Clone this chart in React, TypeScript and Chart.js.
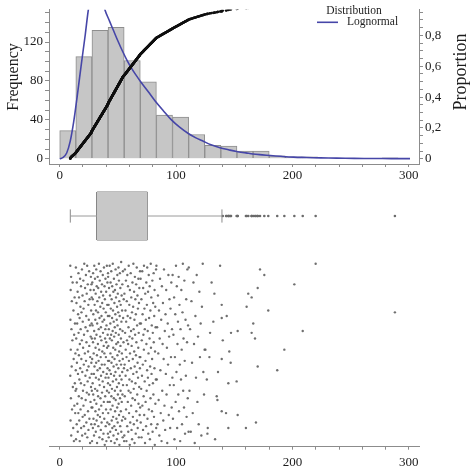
import { useEffect, useRef } from 'react';
import { Chart, registerables } from 'chart.js';

Chart.register(...registerables);

// ---------- data ----------
const binCenters = [6.92, 20.77, 34.62, 48.46, 62.31, 76.15, 90.0, 103.85, 117.69, 131.54, 145.38, 159.23, 173.08, 186.92, 200.77, 214.62, 228.46, 242.31, 256.15, 270.0, 283.85];
const binCounts = [29, 105, 132, 135, 101, 79, 45, 43, 25, 14, 13, 8, 8, 3, 2, 2, 0, 0, 0, 0, 1];

const curveX = [0, 3, 6, 9, 12, 15, 18, 20, 22, 24.6, 27, 31, 35, 38.9, 43, 46.5, 50.4, 54, 57.5, 61, 64.7, 70, 76.1, 82, 89, 96, 103, 110.5, 117, 123.4, 130, 137.7, 145, 152, 160, 166, 174, 181, 190, 201, 212, 224, 238, 253, 270, 285, 301];
const curveY = [0, 1.5, 6, 18, 38, 64, 92, 110, 128, 153, 168, 178, 172, 153, 141, 131, 120, 110.5, 102, 94.5, 87.5, 78.5, 69, 59.5, 49.5, 40, 32.5, 26, 21.5, 18, 14.5, 11.4, 9.3, 7.5, 6.1, 5, 4.1, 3.4, 2.6, 1.8, 1.4, 1.0, 0.7, 0.5, 0.35, 0.25, 0.2];

// sorted sample (used for the ECDF, the box-plot outliers and the strip plot)
const sampleValues = [
  9.1,9.1,9.2,9.3,9.4,9.5,9.6,9.8,9.9,10.1,10.3,10.4,10.6,10.9,11.1,11.3,11.6,11.8,12.0,12.2,12.4,12.6,12.8,13.0,13.1,13.3,13.5,13.6,13.8,
  13.9,14.0,14.2,14.3,14.4,14.6,14.7,14.8,15.0,15.1,15.3,15.4,15.5,15.7,15.8,16.0,16.1,16.2,16.4,16.5,
  16.6,16.8,16.9,17.1,17.2,17.3,17.5,17.6,17.8,17.9,18.0,18.2,18.3,18.4,18.6,18.7,18.9,19.0,19.1,19.3,
  19.4,19.6,19.7,19.8,20.0,20.1,20.3,20.4,20.5,20.7,20.8,20.9,21.1,21.2,21.4,21.5,21.6,21.8,21.9,22.1,
  22.2,22.3,22.5,22.6,22.8,22.9,23.0,23.2,23.3,23.5,23.6,23.7,23.9,24.0,24.1,24.3,24.4,24.6,24.7,24.8,
  25.0,25.1,25.3,25.4,25.5,25.7,25.8,26.0,26.1,26.2,26.4,26.5,26.6,26.8,26.9,27.0,27.1,27.2,27.3,27.3,
  27.4,27.4,27.5,27.6,27.6,
  27.8,27.9,28.0,28.1,28.2,28.3,28.4,28.5,28.6,28.7,28.8,28.9,29.0,29.2,29.3,29.4,29.5,29.6,29.7,29.8,
  29.9,30.0,30.1,30.2,30.3,30.4,30.6,30.7,30.8,30.9,31.0,31.1,31.2,31.3,31.4,31.5,31.6,31.7,31.8,32.0,
  32.1,32.2,32.3,32.4,32.5,32.6,32.7,32.8,32.9,33.0,33.1,33.2,33.4,33.5,33.6,33.7,33.8,33.9,34.0,34.1,
  34.2,34.3,34.4,34.5,34.6,34.8,34.9,35.0,35.1,35.2,35.3,35.4,35.5,35.6,35.7,35.8,35.9,36.0,36.2,36.3,
  36.4,36.5,36.6,36.7,36.8,36.9,37.0,37.1,37.2,37.3,37.4,37.6,37.7,37.8,37.9,38.0,38.1,38.2,38.3,38.4,
  38.5,38.6,38.7,38.8,39.0,39.1,39.2,39.3,39.4,39.5,39.6,39.7,39.8,39.9,40.0,40.1,40.2,40.4,40.5,40.6,
  40.7,40.8,40.9,41.0,41.1,41.2,41.3,41.4,41.4,41.5,41.5,41.5,
  41.6,41.7,41.8,41.9,42.0,42.1,42.2,42.3,42.4,42.5,42.6,42.7,42.8,42.9,43.0,43.1,43.2,43.3,43.4,43.5,
  43.6,43.7,43.8,43.9,44.0,44.1,44.2,44.3,44.4,44.5,44.6,44.7,44.8,44.9,45.0,45.1,45.2,45.3,45.4,45.5,
  45.6,45.7,45.8,45.9,46.0,46.1,46.2,46.3,46.4,46.5,46.6,46.7,46.8,46.9,47.0,47.1,47.2,47.3,47.4,47.5,
  47.6,47.7,47.8,47.9,48.0,48.1,48.2,48.3,48.4,48.5,48.6,48.7,48.8,48.9,49.0,49.1,49.2,49.3,49.4,49.5,
  49.6,49.7,49.8,49.9,50.0,50.1,50.2,50.3,50.4,50.5,50.6,50.7,50.8,50.9,51.0,51.1,51.2,51.3,51.4,51.5,
  51.6,51.7,51.8,51.9,52.0,52.1,52.2,52.3,52.4,52.5,52.6,52.7,52.8,52.9,53.0,53.1,53.2,53.3,53.4,53.5,
  53.6,53.7,53.8,53.9,54.0,54.1,54.2,54.3,54.4,54.5,54.6,54.8,55.0,55.2,55.3,
  55.5,55.6,55.8,55.9,56.0,56.2,56.3,56.5,56.6,56.7,56.9,57.0,57.1,57.3,57.4,57.6,57.7,57.8,58.0,58.1,
  58.2,58.4,58.5,58.7,58.8,58.9,59.1,59.2,59.3,59.5,59.6,59.8,59.9,60.0,60.2,60.3,60.4,60.6,60.7,60.9,
  61.0,61.1,61.3,61.4,61.5,61.7,61.8,62.0,62.1,62.2,62.4,62.5,62.6,62.8,62.9,63.1,63.2,63.3,63.5,63.6,
  63.7,63.9,64.0,64.2,64.3,64.4,64.6,64.7,64.8,65.0,65.1,65.3,65.4,65.5,65.7,65.8,65.9,66.1,66.2,66.4,
  66.5,66.6,66.8,66.9,67.0,67.2,67.3,67.5,67.6,67.7,67.9,68.0,68.1,68.3,68.4,68.6,68.7,68.8,68.9,69.0,
  69.1,
  69.3,69.5,69.6,69.8,70.0,70.2,70.3,70.5,70.7,70.9,71.0,71.2,71.4,71.6,71.7,71.9,72.1,72.3,72.4,72.6,
  72.8,73.0,73.1,73.3,73.5,73.7,73.8,74.0,74.2,74.4,74.5,74.7,74.9,75.1,75.2,75.4,75.6,75.8,75.9,76.1,
  76.3,76.5,76.6,76.8,77.0,77.2,77.3,77.5,77.7,77.9,78.0,78.2,78.4,78.6,78.7,78.9,79.1,79.3,79.4,79.6,
  79.8,80.0,80.1,80.3,80.5,80.7,80.8,81.0,81.2,81.4,81.5,81.7,81.9,82.1,82.2,82.4,82.6,82.8,82.9,
  83.1,83.4,83.7,84.0,84.4,84.7,85.0,85.3,85.6,85.9,86.2,86.5,86.8,87.2,87.5,87.8,88.1,88.4,88.7,89.0,
  89.3,89.6,90.0,90.3,90.6,90.9,91.2,91.5,91.8,92.1,92.4,92.8,93.1,93.4,93.7,94.0,94.3,94.6,94.9,95.2,
  95.6,95.9,96.2,96.5,96.8,
  97.0,97.3,97.7,98.0,98.3,98.6,99.0,99.3,99.6,99.9,100.3,100.6,100.9,101.2,101.6,101.9,102.2,102.5,102.9,103.2,
  103.5,103.8,104.2,104.5,104.8,105.1,105.5,105.8,106.1,106.4,106.8,107.1,107.4,107.7,108.1,108.4,108.7,109.0,109.4,109.7,
  110.0,110.3,110.7,
  110.9,111.5,112.0,112.6,113.2,113.7,114.3,114.9,115.4,116.0,116.6,117.1,117.7,118.3,118.8,119.4,120.0,120.5,121.1,121.7,
  122.2,122.9,123.4,124.0,124.5,
  125.2,126.4,126.9,127.2,128.6,129.2,130.5,132.0,132.9,133.5,134.9,135.5,136.0,137.8,
  139.2,139.2,139.2,139.2,140.1,142.9,143.5,144.9,144.9,145.7,146.9,147.2,152.0,152.9,152.9,160.0,160.6,162.0,164.9,164.9,
  166.3,167.8,168.6,170.1,170.1,172.1,175.8,179.2,186.9,193.0,201.6,208.8,219.9,288.0,
];

// vertical jitter of each sample value in the strip plot (0 = axis, 100 = top row)
const stripJitter = [
  97,38,68,14,84,52,26,91,6,63,43,78,20,57,88,32,10,73,47,3,60,22,80,34,66,18,50,30,41,
  96,4,58,31,77,12,88,45,66,23,52,83,8,39,71,18,93,61,27,49,80,14,36,69,3,55,90,42,75,20,
  63,34,86,10,47,72,26,57,95,6,40,81,16,67,30,53,89,22,74,44,11,60,98,33,78,17,50,85,7,38,
  64,25,92,46,70,13,56,82,29,41,97,5,62,35,87,19,51,76,9,43,68,28,94,54,15,79,37,65,2,48,
  84,24,59,91,32,73,12,45,87,21,66,39,80,58,30,
  3,47,88,21,65,34,79,10,56,93,28,71,15,50,84,39,6,62,97,25,43,76,12,58,90,31,68,19,53,82,
  8,37,73,45,95,23,60,14,86,49,2,66,30,78,41,91,17,55,72,27,85,11,46,63,36,98,20,52,80,5,
  69,33,89,42,16,59,75,26,94,48,9,64,38,83,22,57,70,13,44,87,29,77,51,4,67,35,92,18,61,81,
  40,7,74,54,24,96,32,68,15,50,86,44,1,79,58,27,63,90,37,11,72,48,20,83,56,3,65,39,97,30,
  53,76,13,88,42,60,24,70,7,93,46,34,
  91,18,54,37,76,5,63,29,85,46,12,70,41,97,24,58,81,33,8,66,50,88,20,74,39,3,60,94,27,45,
  79,14,57,31,69,86,10,48,22,62,98,35,73,16,53,83,6,43,67,26,90,38,59,11,77,47,2,64,30,84,
  19,52,71,40,95,25,61,9,80,36,55,15,87,44,68,4,32,75,21,92,49,65,13,82,28,56,7,72,42,96,
  23,60,34,89,17,51,78,1,46,70,38,93,26,63,11,85,54,30,76,19,58,44,99,8,67,36,81,24,50,14,
  73,40,87,28,62,5,47,94,33,69,16,56,79,42,3,
  6,82,44,27,95,61,15,73,38,52,89,20,67,3,48,78,33,57,11,92,41,70,24,86,55,8,64,30,97,46,
  18,76,36,59,1,84,50,13,69,29,93,42,62,22,80,9,54,35,72,4,58,88,26,47,16,75,39,98,63,31,
  12,83,51,68,2,43,91,25,60,79,34,7,71,49,87,19,56,40,96,14,65,28,81,45,10,74,37,53,90,23,
  61,5,77,32,85,48,17,66,42,94,21,
  48,90,13,66,31,79,5,57,38,94,22,71,44,9,85,60,27,52,97,17,74,35,63,2,82,46,24,68,11,88,
  55,30,76,41,96,15,62,37,83,7,50,92,20,69,33,58,86,4,43,73,26,98,53,12,80,39,65,19,47,89,
  8,61,34,77,28,93,56,16,70,42,84,1,51,75,23,64,36,95,10,
  97,36,64,12,81,50,25,73,6,58,90,41,18,68,3,86,30,55,77,14,47,95,22,62,9,71,39,84,28,53,
  2,66,44,92,17,59,79,33,10,74,48,88,21,63,37,
  92,15,60,33,80,4,48,71,24,97,40,86,10,55,67,28,91,19,76,44,3,63,36,84,52,12,72,98,30,58,
  21,89,46,7,68,38,79,16,56,95,26,65,8,
  96,30,63,8,78,45,18,88,55,2,70,37,92,24,59,12,83,48,66,6,75,98,40,28,52,
  52,36,7,10,48,61,88,67,82,4,27,25,40,97,
  76,69,47,19,57,18,70,34,10,51,45,61,35,62,17,10,75,82,80,61,66,58,13,85,43,95,92,73,41,52,
  87,62,98,72,
];

const whiskerLow = 9.1;
const quartile1 = 32;
const medianValue = 51.2;
const meanValue = 59.3;
const quartile3 = 75.3;
const whiskerHigh = 139.4;

const xTickLabels = [0, 100, 200, 300];
const freqTickLabels = [0, 40, 80, 120];
const propTickLabels = [0, 0.2, 0.4, 0.6, 0.8];

// ---------- styling ----------
const FONT = 'Liberation Serif';
const AXIS_COLOR = '#8c8c8c';
const TEXT_COLOR = '#1c1c1c';
const CURVE_COLOR = '#4646a8';
const X_MIN = -9.2;
const X_MAX = 308.7;

function range(start: number, end: number, step: number): number[] {
  const out: number[] = [];
  const n = Math.round((end - start) / step);
  for (let i = 0; i <= n; i++) out.push(Math.round((start + i * step) * 1000) / 1000);
  return out;
}

function xAxis(height: number, padding: number) {
  return {
    type: 'linear' as const,
    min: X_MIN,
    max: X_MAX,
    offset: false,
    afterBuildTicks: (s: any) => { s.ticks = range(0, 300, 20).map((v) => ({ value: v })); },
    afterFit: (s: any) => { s.height = height; },
    ticks: {
      autoSkip: false,
      maxRotation: 0,
      padding,
      color: TEXT_COLOR,
      font: { family: FONT, size: 13 },
      callback: (v: any) => (xTickLabels.includes(Number(v)) ? String(v) : ''),
    },
    grid: { display: true, drawOnChartArea: false, drawTicks: true, tickLength: 3, color: AXIS_COLOR, offset: false },
    border: { display: true, color: AXIS_COLOR },
  };
}

const textPlugin = {
  id: 'texts',
  afterDraw(chart: any) {
    const ctx = chart.ctx as CanvasRenderingContext2D;
    ctx.save();
    ctx.fillStyle = TEXT_COLOR;
    ctx.textAlign = 'center';
    ctx.textBaseline = 'middle';
    ctx.font = `16px "${FONT}"`;
    ctx.save();
    ctx.translate(14, 77);
    ctx.rotate(-Math.PI / 2);
    ctx.fillText('Frequency', 0, 0);
    ctx.restore();
    ctx.save();
    ctx.font = `18px "${FONT}"`;
    ctx.translate(461, 72);
    ctx.rotate(-Math.PI / 2);
    ctx.fillText('Proportion', 0, 0);
    ctx.restore();
    // legend
    ctx.font = `11.5px "${FONT}"`;
    ctx.fillText('Distribution', 354, 10.5);
    ctx.textAlign = 'left';
    ctx.fillText('Lognormal', 347, 22);
    ctx.strokeStyle = CURVE_COLOR;
    ctx.lineWidth = 1.6;
    ctx.beginPath();
    ctx.moveTo(317, 22.3);
    ctx.lineTo(338, 22.3);
    ctx.stroke();
    ctx.restore();
  },
};

export default function App() {
  const topRef = useRef<HTMLCanvasElement>(null);
  const boxRef = useRef<HTMLCanvasElement>(null);
  const stripRef = useRef<HTMLCanvasElement>(null);

  useEffect(() => {
    const charts: Chart[] = [];
    const n = sampleValues.length;

    // ---------- top: histogram, fitted curve, ECDF ----------
    if (topRef.current) {
      charts.push(new Chart(topRef.current, {
        type: 'bar',
        data: {
          datasets: [
            {
              type: 'scatter',
              data: sampleValues.map((v, i) => ({ x: v, y: (i + 1) / n })),
              yAxisID: 'y2',
              pointRadius: 1.3,
              pointBackgroundColor: '#101010',
              pointBorderWidth: 0,
              order: 0,
            } as any,
            {
              type: 'line',
              data: curveX.map((x, i) => ({ x, y: curveY[i] })),
              yAxisID: 'y',
              borderColor: CURVE_COLOR,
              borderWidth: 1.6,
              pointRadius: 0,
              tension: 0.35,
              fill: false,
              order: 1,
            } as any,
            {
              type: 'bar',
              data: binCenters.map((x, i) => ({ x, y: binCounts[i] })),
              yAxisID: 'y',
              backgroundColor: '#c6c6c6',
              borderColor: '#8e8e8e',
              borderWidth: 1,
              barPercentage: 1,
              categoryPercentage: 1,
              order: 2,
            } as any,
          ],
        },
        options: {
          animation: false,
          responsive: false,
          devicePixelRatio: 1,
          layout: { padding: 0, autoPadding: false },
          plugins: { legend: { display: false }, tooltip: { enabled: false } },
          scales: {
            x: xAxis(21, 1) as any,
            y: {
              type: 'linear',
              position: 'left',
              min: -5.3,
              max: 153.1,
              afterBuildTicks: (s: any) => { s.ticks = range(0, 150, 10).map((v) => ({ value: v })); },
              afterFit: (s: any) => { s.width = 49; },
              ticks: {
                autoSkip: false,
                padding: 2,
                color: TEXT_COLOR,
                font: { family: FONT, size: 13 },
                callback: (v: any) => (freqTickLabels.includes(Number(v)) ? String(v) : ''),
              },
              grid: { display: true, drawOnChartArea: false, tickLength: 4, color: AXIS_COLOR },
              border: { display: true, color: AXIS_COLOR },
            },
            y2: {
              type: 'linear',
              position: 'right',
              min: -0.0335,
              max: 0.966,
              afterBuildTicks: (s: any) => { s.ticks = range(0, 0.95, 0.05).map((v) => ({ value: v })); },
              afterFit: (s: any) => { s.width = 55; },
              ticks: {
                autoSkip: false,
                padding: 2,
                color: TEXT_COLOR,
                font: { family: FONT, size: 13 },
                callback: (v: any) => {
                  const r = Math.round(Number(v) * 100) / 100;
                  return propTickLabels.some((t) => Math.abs(t - r) < 1e-6) ? String(r).replace('.', ',') : '';
                },
              },
              grid: { display: true, drawOnChartArea: false, tickLength: 4, color: AXIS_COLOR },
              border: { display: true, color: AXIS_COLOR },
            },
          },
        },
        plugins: [textPlugin],
      }));
    }

    // ---------- middle: box plot ----------
    if (boxRef.current) {
      const h = 0.8;
      const cap = 0.22;
      const outliers = sampleValues.filter((v) => v > whiskerHigh);
      const seg = (pts: { x: number; y: number }[], color: string, width = 1) => ({
        data: pts, showLine: true, borderColor: color, borderWidth: width, pointRadius: 0, fill: false,
      });
      charts.push(new Chart(boxRef.current, {
        type: 'scatter',
        data: {
          datasets: [
            { ...seg([{ x: quartile1, y: h }, { x: quartile3, y: h }], 'rgba(0,0,0,0)', 0), fill: '+1', backgroundColor: '#c8c8c8' } as any,
            seg([{ x: quartile1, y: -h }, { x: quartile3, y: -h }], 'rgba(0,0,0,0)', 0) as any,
            seg([{ x: whiskerLow, y: 0 }, { x: quartile1, y: 0 }], '#9a9a9a') as any,
            seg([{ x: quartile3, y: 0 }, { x: whiskerHigh, y: 0 }], '#9a9a9a') as any,
            seg([{ x: whiskerLow, y: -cap }, { x: whiskerLow, y: cap }], '#8a8a8a') as any,
            seg([{ x: whiskerHigh, y: -cap }, { x: whiskerHigh, y: cap }], '#8a8a8a') as any,
            seg([{ x: quartile1, y: -h }, { x: quartile3, y: -h }, { x: quartile3, y: h }, { x: quartile1, y: h }, { x: quartile1, y: -h }], '#7c7c7c') as any,
            seg([{ x: medianValue, y: -h }, { x: medianValue, y: h }], '#5c5c5c', 1.2) as any,
            { data: [{ x: meanValue, y: 0 }], pointRadius: 1.1, pointBackgroundColor: '#666', pointBorderWidth: 0 } as any,
            { data: outliers.map((v) => ({ x: v, y: 0 })), pointRadius: 1.3, pointBackgroundColor: '#6a6a6a', pointBorderWidth: 0 } as any,
          ],
        },
        options: {
          animation: false,
          responsive: false,
          devicePixelRatio: 1,
          layout: { padding: { left: 49, right: 55, top: 0, bottom: 0 }, autoPadding: false },
          plugins: { legend: { display: false }, tooltip: { enabled: false } },
          scales: {
            x: { type: 'linear', min: X_MIN, max: X_MAX, display: false },
            y: { type: 'linear', min: -1, max: 1, display: false },
          },
        },
      }));
    }

    // ---------- bottom: strip plot ----------
    if (stripRef.current) {
      const m = Math.min(sampleValues.length, stripJitter.length);
      const pts = [];
      for (let i = 0; i < m; i++) pts.push({ x: sampleValues[i], y: stripJitter[i] });
      charts.push(new Chart(stripRef.current, {
        type: 'scatter',
        data: {
          datasets: [
            { data: pts, pointRadius: 1.2, pointBackgroundColor: 'rgba(95,95,95,0.9)', pointBorderWidth: 0 } as any,
          ],
        },
        options: {
          animation: false,
          responsive: false,
          devicePixelRatio: 1,
          layout: { padding: { left: 49, right: 55, top: 0, bottom: 0 }, autoPadding: false },
          plugins: { legend: { display: false }, tooltip: { enabled: false } },
          scales: {
            x: xAxis(27.3, 5) as any,
            y: { type: 'linear', min: 0, max: 105.4, display: false },
          },
        },
      }));
    }

    return () => charts.forEach((c) => c.destroy());
  }, []);

  return (
    <div style={{ position: 'absolute', left: 0, top: 0, width: 474, height: 474, background: '#ffffff' }}>
      <canvas ref={topRef} width={474} height={185} style={{ position: 'absolute', left: 0, top: 0, display: 'block' }} />
      <canvas ref={boxRef} width={474} height={60} style={{ position: 'absolute', left: 0, top: 186, display: 'block' }} />
      <canvas ref={stripRef} width={474} height={224} style={{ position: 'absolute', left: 0, top: 250, display: 'block' }} />
    </div>
  );
}
